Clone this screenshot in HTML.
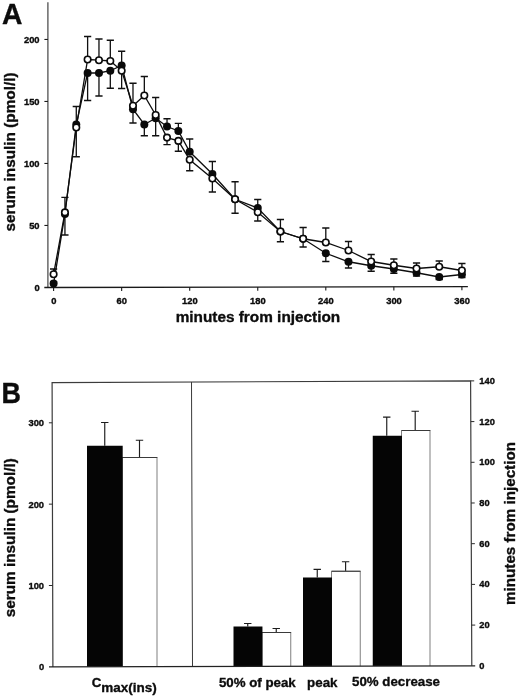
<!DOCTYPE html><html><head><meta charset="utf-8"><title>Figure</title>
<style>html,body{margin:0;padding:0;background:#fff}svg{display:block;filter:blur(0.3px)}text{font-family:"Liberation Sans",Arial,Helvetica,sans-serif;font-weight:bold;fill:#0c0c0c;stroke:#0c0c0c;stroke-width:0.35px;stroke-linejoin:round}</style></head><body>
<svg width="520" height="697" viewBox="0 0 520 697">
<rect width="520" height="697" fill="#fff"/>
<text transform="translate(2,23.6) scale(0.975,1)" font-size="29" stroke-width="1">A</text>
<g stroke="#1a1a1a" stroke-width="1.1" fill="none">
<line x1="47.9" y1="2.2" x2="47.9" y2="287.5" stroke="#4a4a4a" stroke-width="1.25"/>
<line x1="44.3" y1="287.5" x2="467.9" y2="286.7" stroke-width="1.3"/>
<line x1="44.4" y1="225.45" x2="47.9" y2="225.45"/>
<line x1="44.4" y1="163.45" x2="47.9" y2="163.45"/>
<line x1="44.4" y1="101.44999999999999" x2="47.9" y2="101.44999999999999"/>
<line x1="44.4" y1="39.44999999999999" x2="47.9" y2="39.44999999999999"/>
<line x1="53.6" y1="287.48" x2="53.6" y2="291.08"/>
<line x1="121.65" y1="287.35" x2="121.65" y2="290.95"/>
<line x1="189.7" y1="287.23" x2="189.7" y2="290.83"/>
<line x1="257.75" y1="287.10" x2="257.75" y2="290.70"/>
<line x1="325.8" y1="286.97" x2="325.8" y2="290.57"/>
<line x1="393.84999999999997" y1="286.84" x2="393.84999999999997" y2="290.44"/>
<line x1="461.9" y1="286.71" x2="461.9" y2="290.31"/>
</g>
<text x="39.6" y="290.85" font-size="9.4" text-anchor="end">0</text>
<text x="39.6" y="228.85" font-size="9.4" text-anchor="end">50</text>
<text x="39.6" y="166.85" font-size="9.4" text-anchor="end">100</text>
<text x="39.6" y="104.85" font-size="9.4" text-anchor="end">150</text>
<text x="39.6" y="42.85" font-size="9.4" text-anchor="end">200</text>
<text x="53.75" y="304.0" font-size="9.4" text-anchor="middle">0</text>
<text x="121.80" y="304.0" font-size="9.4" text-anchor="middle">60</text>
<text x="189.85" y="304.0" font-size="9.4" text-anchor="middle">120</text>
<text x="257.90" y="304.0" font-size="9.4" text-anchor="middle">180</text>
<text x="325.95" y="304.0" font-size="9.4" text-anchor="middle">240</text>
<text x="394.00" y="304.0" font-size="9.4" text-anchor="middle">300</text>
<text x="462.05" y="304.0" font-size="9.4" text-anchor="middle">360</text>
<text x="257.95" y="322.1" font-size="15.35" text-anchor="middle">minutes from injection</text>
<text transform="translate(15.1,152.05) rotate(-90)" font-size="15.32" text-anchor="middle">serum insulin (pmol/l)</text>
<g stroke="#101010" stroke-width="1.3" fill="none">
<path d="M53.60 269V274.2M53.60 283.6V282M50.00 269H57.20M50.00 282H57.20"/>
<path d="M64.94 197.3V212.4M64.94 214V235M61.34 197.3H68.54M61.34 235H68.54"/>
<path d="M76.28 106.5V124.5M76.28 127.5V156.75M72.68 106.5H79.88M72.68 156.75H79.88"/>
<path d="M87.62 36.5V59.5M87.62 73V100.5M84.03 36.5H91.22M84.03 100.5H91.22"/>
<path d="M98.97 39V60.2M98.97 73V96M95.37 39H102.57M95.37 96H102.57"/>
<path d="M110.31 40.25V61M110.31 70.75V88.25M106.71 40.25H113.91M106.71 88.25H113.91"/>
<path d="M121.65 51.25V65.5M121.65 70.75V88.5M118.05 51.25H125.25M118.05 88.5H125.25"/>
<path d="M132.99 83.25V105.75M132.99 109.25V123M129.39 83.25H136.59M129.39 123H136.59"/>
<path d="M144.33 76.5V95.5M144.33 124.5V135.75M140.73 76.5H147.93M140.73 135.75H147.93"/>
<path d="M155.67 97.5V115M155.67 118.25V135.75M152.07 97.5H159.27M152.07 135.75H159.27"/>
<path d="M167.02 118.75V126.5M167.02 137.6V144.6M163.42 118.75H170.62M163.42 144.6H170.62"/>
<path d="M178.36 123.4V130.9M178.36 140.9V151.25M174.76 123.4H181.96M174.76 151.25H181.96"/>
<path d="M189.70 139V151.75M189.70 159.75V170.75M186.10 139H193.30M186.10 170.75H193.30"/>
<path d="M212.38 161.5V174M212.38 178.5V192M208.78 161.5H215.98M208.78 192H215.98"/>
<path d="M235.07 181.75V199.25M235.07 199.25V213.25M231.47 181.75H238.67M231.47 213.25H238.67"/>
<path d="M257.75 199.5V208M257.75 212.25V221M254.15 199.5H261.35M254.15 221H261.35"/>
<path d="M280.43 219.5V231.5M280.43 231.5V241.75M276.83 219.5H284.03M276.83 241.75H284.03"/>
<path d="M303.12 227.5V238.75M303.12 238.75V247M299.52 227.5H306.72M299.52 247H306.72"/>
<path d="M325.80 228V242.5M325.80 253.25V261.5M322.20 228H329.40M322.20 261.5H329.40"/>
<path d="M348.48 241.5V250.5M348.48 261.75V268M344.88 241.5H352.08M344.88 268H352.08"/>
<path d="M371.17 254.5V261.5M371.17 265.75V271.25M367.57 254.5H374.77M367.57 271.25H374.77"/>
<path d="M393.85 259V265.25M393.85 269V273.25M390.25 259H397.45M390.25 273.25H397.45"/>
<path d="M416.53 263V268.5M416.53 272.75V276M412.93 263H420.13M412.93 276H420.13"/>
<path d="M439.22 261V266.75M439.22 277V279.5M435.62 261H442.82M435.62 279.5H442.82"/>
<path d="M461.90 263.5V270.5M461.90 274.5V277.5M458.30 263.5H465.50M458.30 277.5H465.50"/>
</g>
<polyline points="53.60,283.6 64.94,214 76.28,124.5 87.62,73 98.97,73 110.31,70.75 121.65,65.5 132.99,109.25 144.33,124.5 155.67,118.25 167.02,126.5 178.36,130.9 189.70,151.75 212.38,174 235.07,199.25 257.75,208 280.43,231.5 303.12,238.75 325.80,253.25 348.48,261.75 371.17,265.75 393.85,269 416.53,272.75 439.22,277 461.90,274.5" fill="none" stroke="#0d0d0d" stroke-width="1.3"/>
<polyline points="53.60,274.2 64.94,212.4 76.28,127.5 87.62,59.5 98.97,60.2 110.31,61 121.65,70.75 132.99,105.75 144.33,95.5 155.67,115 167.02,137.6 178.36,140.9 189.70,159.75 212.38,178.5 235.07,199.25 257.75,212.25 280.43,231.5 303.12,238.75 325.80,242.5 348.48,250.5 371.17,261.5 393.85,265.25 416.53,268.5 439.22,266.75 461.90,270.5" fill="none" stroke="#0d0d0d" stroke-width="1.3"/>
<circle cx="53.60" cy="283.6" r="4.0" fill="#0a0a0a"/>
<circle cx="53.60" cy="274.2" r="3.25" fill="#fff" stroke="#0a0a0a" stroke-width="1.6"/>
<circle cx="64.94" cy="214" r="4.0" fill="#0a0a0a"/>
<circle cx="64.94" cy="212.4" r="3.25" fill="#fff" stroke="#0a0a0a" stroke-width="1.6"/>
<circle cx="76.28" cy="124.5" r="4.0" fill="#0a0a0a"/>
<circle cx="76.28" cy="127.5" r="3.25" fill="#fff" stroke="#0a0a0a" stroke-width="1.6"/>
<circle cx="87.62" cy="73" r="4.0" fill="#0a0a0a"/>
<circle cx="87.62" cy="59.5" r="3.25" fill="#fff" stroke="#0a0a0a" stroke-width="1.6"/>
<circle cx="98.97" cy="73" r="4.0" fill="#0a0a0a"/>
<circle cx="98.97" cy="60.2" r="3.25" fill="#fff" stroke="#0a0a0a" stroke-width="1.6"/>
<circle cx="110.31" cy="70.75" r="4.0" fill="#0a0a0a"/>
<circle cx="110.31" cy="61" r="3.25" fill="#fff" stroke="#0a0a0a" stroke-width="1.6"/>
<circle cx="121.65" cy="65.5" r="4.0" fill="#0a0a0a"/>
<circle cx="121.65" cy="70.75" r="3.25" fill="#fff" stroke="#0a0a0a" stroke-width="1.6"/>
<circle cx="132.99" cy="109.25" r="4.0" fill="#0a0a0a"/>
<circle cx="132.99" cy="105.75" r="3.25" fill="#fff" stroke="#0a0a0a" stroke-width="1.6"/>
<circle cx="144.33" cy="124.5" r="4.0" fill="#0a0a0a"/>
<circle cx="144.33" cy="95.5" r="3.25" fill="#fff" stroke="#0a0a0a" stroke-width="1.6"/>
<circle cx="155.67" cy="118.25" r="4.0" fill="#0a0a0a"/>
<circle cx="155.67" cy="115" r="3.25" fill="#fff" stroke="#0a0a0a" stroke-width="1.6"/>
<circle cx="167.02" cy="126.5" r="4.0" fill="#0a0a0a"/>
<circle cx="167.02" cy="137.6" r="3.25" fill="#fff" stroke="#0a0a0a" stroke-width="1.6"/>
<circle cx="178.36" cy="130.9" r="4.0" fill="#0a0a0a"/>
<circle cx="178.36" cy="140.9" r="3.25" fill="#fff" stroke="#0a0a0a" stroke-width="1.6"/>
<circle cx="189.70" cy="151.75" r="4.0" fill="#0a0a0a"/>
<circle cx="189.70" cy="159.75" r="3.25" fill="#fff" stroke="#0a0a0a" stroke-width="1.6"/>
<circle cx="212.38" cy="174" r="4.0" fill="#0a0a0a"/>
<circle cx="212.38" cy="178.5" r="3.25" fill="#fff" stroke="#0a0a0a" stroke-width="1.6"/>
<circle cx="235.07" cy="199.25" r="4.0" fill="#0a0a0a"/>
<circle cx="235.07" cy="199.25" r="3.25" fill="#fff" stroke="#0a0a0a" stroke-width="1.6"/>
<circle cx="257.75" cy="208" r="4.0" fill="#0a0a0a"/>
<circle cx="257.75" cy="212.25" r="3.25" fill="#fff" stroke="#0a0a0a" stroke-width="1.6"/>
<circle cx="280.43" cy="231.5" r="4.0" fill="#0a0a0a"/>
<circle cx="280.43" cy="231.5" r="3.25" fill="#fff" stroke="#0a0a0a" stroke-width="1.6"/>
<circle cx="303.12" cy="238.75" r="4.0" fill="#0a0a0a"/>
<circle cx="303.12" cy="238.75" r="3.25" fill="#fff" stroke="#0a0a0a" stroke-width="1.6"/>
<circle cx="325.80" cy="253.25" r="4.0" fill="#0a0a0a"/>
<circle cx="325.80" cy="242.5" r="3.25" fill="#fff" stroke="#0a0a0a" stroke-width="1.6"/>
<circle cx="348.48" cy="261.75" r="4.0" fill="#0a0a0a"/>
<circle cx="348.48" cy="250.5" r="3.25" fill="#fff" stroke="#0a0a0a" stroke-width="1.6"/>
<circle cx="371.17" cy="265.75" r="4.0" fill="#0a0a0a"/>
<circle cx="371.17" cy="261.5" r="3.25" fill="#fff" stroke="#0a0a0a" stroke-width="1.6"/>
<circle cx="393.85" cy="269" r="4.0" fill="#0a0a0a"/>
<circle cx="393.85" cy="265.25" r="3.25" fill="#fff" stroke="#0a0a0a" stroke-width="1.6"/>
<circle cx="416.53" cy="272.75" r="4.0" fill="#0a0a0a"/>
<circle cx="416.53" cy="268.5" r="3.25" fill="#fff" stroke="#0a0a0a" stroke-width="1.6"/>
<circle cx="439.22" cy="277" r="4.0" fill="#0a0a0a"/>
<circle cx="439.22" cy="266.75" r="3.25" fill="#fff" stroke="#0a0a0a" stroke-width="1.6"/>
<circle cx="461.90" cy="274.5" r="4.0" fill="#0a0a0a"/>
<circle cx="461.90" cy="270.5" r="3.25" fill="#fff" stroke="#0a0a0a" stroke-width="1.6"/>
<text transform="translate(1.4,402.8) scale(0.93,1)" font-size="29" stroke-width="1">B</text>
<path d="M52.9 666.9L52.1 382.56L470.6 380.9L471.8 665.8" stroke="#3c3c3c" stroke-width="1.2" fill="none"/>
<line x1="191.5" y1="382.01" x2="192.5" y2="666.53" stroke="#3a3a3a" stroke-width="1"/>
<path d="M139.5 457.5V440.25M135.8 440.25H143.2" stroke="#1c1c1c" stroke-width="1.15" fill="none"/>
<path d="M122.25 666.67V457.5H157V666.67" fill="#fff" stroke="#686868" stroke-width="0.85"/>
<path d="M122.25 457.5H157.4" fill="none" stroke="#3a3a3a" stroke-width="1.05"/>
<path d="M276.25 632.5V628.5M272.55 628.5H279.95" stroke="#1c1c1c" stroke-width="1.15" fill="none"/>
<path d="M262 666.31V632.5H290.75V666.31" fill="#fff" stroke="#686868" stroke-width="0.85"/>
<path d="M262 632.5H291.15" fill="none" stroke="#3a3a3a" stroke-width="1.05"/>
<path d="M345.6 571.25V561.75M341.90000000000003 561.75H349.3" stroke="#1c1c1c" stroke-width="1.15" fill="none"/>
<path d="M331.5 666.13V571.25H360.25V666.13" fill="#fff" stroke="#686868" stroke-width="0.85"/>
<path d="M331.5 571.25H360.65" fill="none" stroke="#3a3a3a" stroke-width="1.05"/>
<path d="M415.2 430.5V411.25M411.5 411.25H418.9" stroke="#1c1c1c" stroke-width="1.15" fill="none"/>
<path d="M401.5 665.95V430.5H430V665.95" fill="#fff" stroke="#686868" stroke-width="0.85"/>
<path d="M401.5 430.5H430.4" fill="none" stroke="#3a3a3a" stroke-width="1.05"/>
<path d="M104.75 445.75V422.5M101.05 422.5H108.45" stroke="#1c1c1c" stroke-width="1.15" fill="none"/>
<rect x="87" y="445.75" width="35.70" height="221.01" fill="#050505"/>
<path d="M247.75 626.5V623.5M244.05 623.5H251.45" stroke="#1c1c1c" stroke-width="1.15" fill="none"/>
<rect x="233.5" y="626.5" width="28.95" height="39.89" fill="#050505"/>
<path d="M317.25 577.5V569.4M313.55 569.4H320.95" stroke="#1c1c1c" stroke-width="1.15" fill="none"/>
<rect x="303" y="577.5" width="28.95" height="88.71" fill="#050505"/>
<path d="M386.75 435.75V417.1M383.05 417.1H390.45" stroke="#1c1c1c" stroke-width="1.15" fill="none"/>
<rect x="372.75" y="435.75" width="29.20" height="230.27" fill="#050505"/>
<line x1="49" y1="666.91" x2="475.2" y2="665.79" stroke="#222" stroke-width="1.25"/>
<g stroke="#2a2a2a" stroke-width="1" fill="none">
<line x1="48.9" y1="585.50" x2="52.67" y2="585.50"/>
<line x1="48.9" y1="504.15" x2="52.44" y2="504.15"/>
<line x1="48.9" y1="422.80" x2="52.21" y2="422.80"/>
<line x1="471.63" y1="625.10" x2="475.23" y2="625.08"/>
<line x1="471.46" y1="584.40" x2="475.06" y2="584.38"/>
<line x1="471.29" y1="543.70" x2="474.89" y2="543.68"/>
<line x1="471.11" y1="503.00" x2="474.71" y2="502.98"/>
<line x1="470.94" y1="462.30" x2="474.54" y2="462.28"/>
<line x1="470.77" y1="421.60" x2="474.37" y2="421.58"/>
<line x1="470.60" y1="380.90" x2="474.20" y2="380.88"/>
</g>
<text x="44.1" y="670.35" font-size="9.4" text-anchor="end">0</text>
<text x="44.1" y="589.00" font-size="9.4" text-anchor="end">100</text>
<text x="44.1" y="507.65" font-size="9.4" text-anchor="end">200</text>
<text x="44.1" y="426.30" font-size="9.4" text-anchor="end">300</text>
<text x="479.3" y="668.70" font-size="9.3">0</text>
<text x="479.3" y="628.00" font-size="9.3">20</text>
<text x="479.3" y="587.30" font-size="9.3">40</text>
<text x="479.3" y="546.60" font-size="9.3">60</text>
<text x="479.3" y="505.90" font-size="9.3">80</text>
<text x="479.3" y="465.20" font-size="9.3">100</text>
<text x="479.3" y="424.50" font-size="9.3">120</text>
<text x="479.3" y="383.80" font-size="9.3">140</text>
<text transform="translate(14.8,537.75) rotate(-90)" font-size="15.32" text-anchor="middle">serum insulin (pmol/l)</text>
<text transform="translate(515.3,523.5) rotate(-90)" font-size="15.2" text-anchor="middle">minutes from injection</text>
<text x="91.7" y="686.8" font-size="13.2">C<tspan dy="4.8" font-size="13.5">max(ins)</tspan></text>
<text x="218.9" y="686.6" font-size="13.3">50% of peak</text>
<text x="307.1" y="686.6" font-size="13.35">peak</text>
<text x="352" y="686.3" font-size="13.3">50% decrease</text>
</svg></body></html>
